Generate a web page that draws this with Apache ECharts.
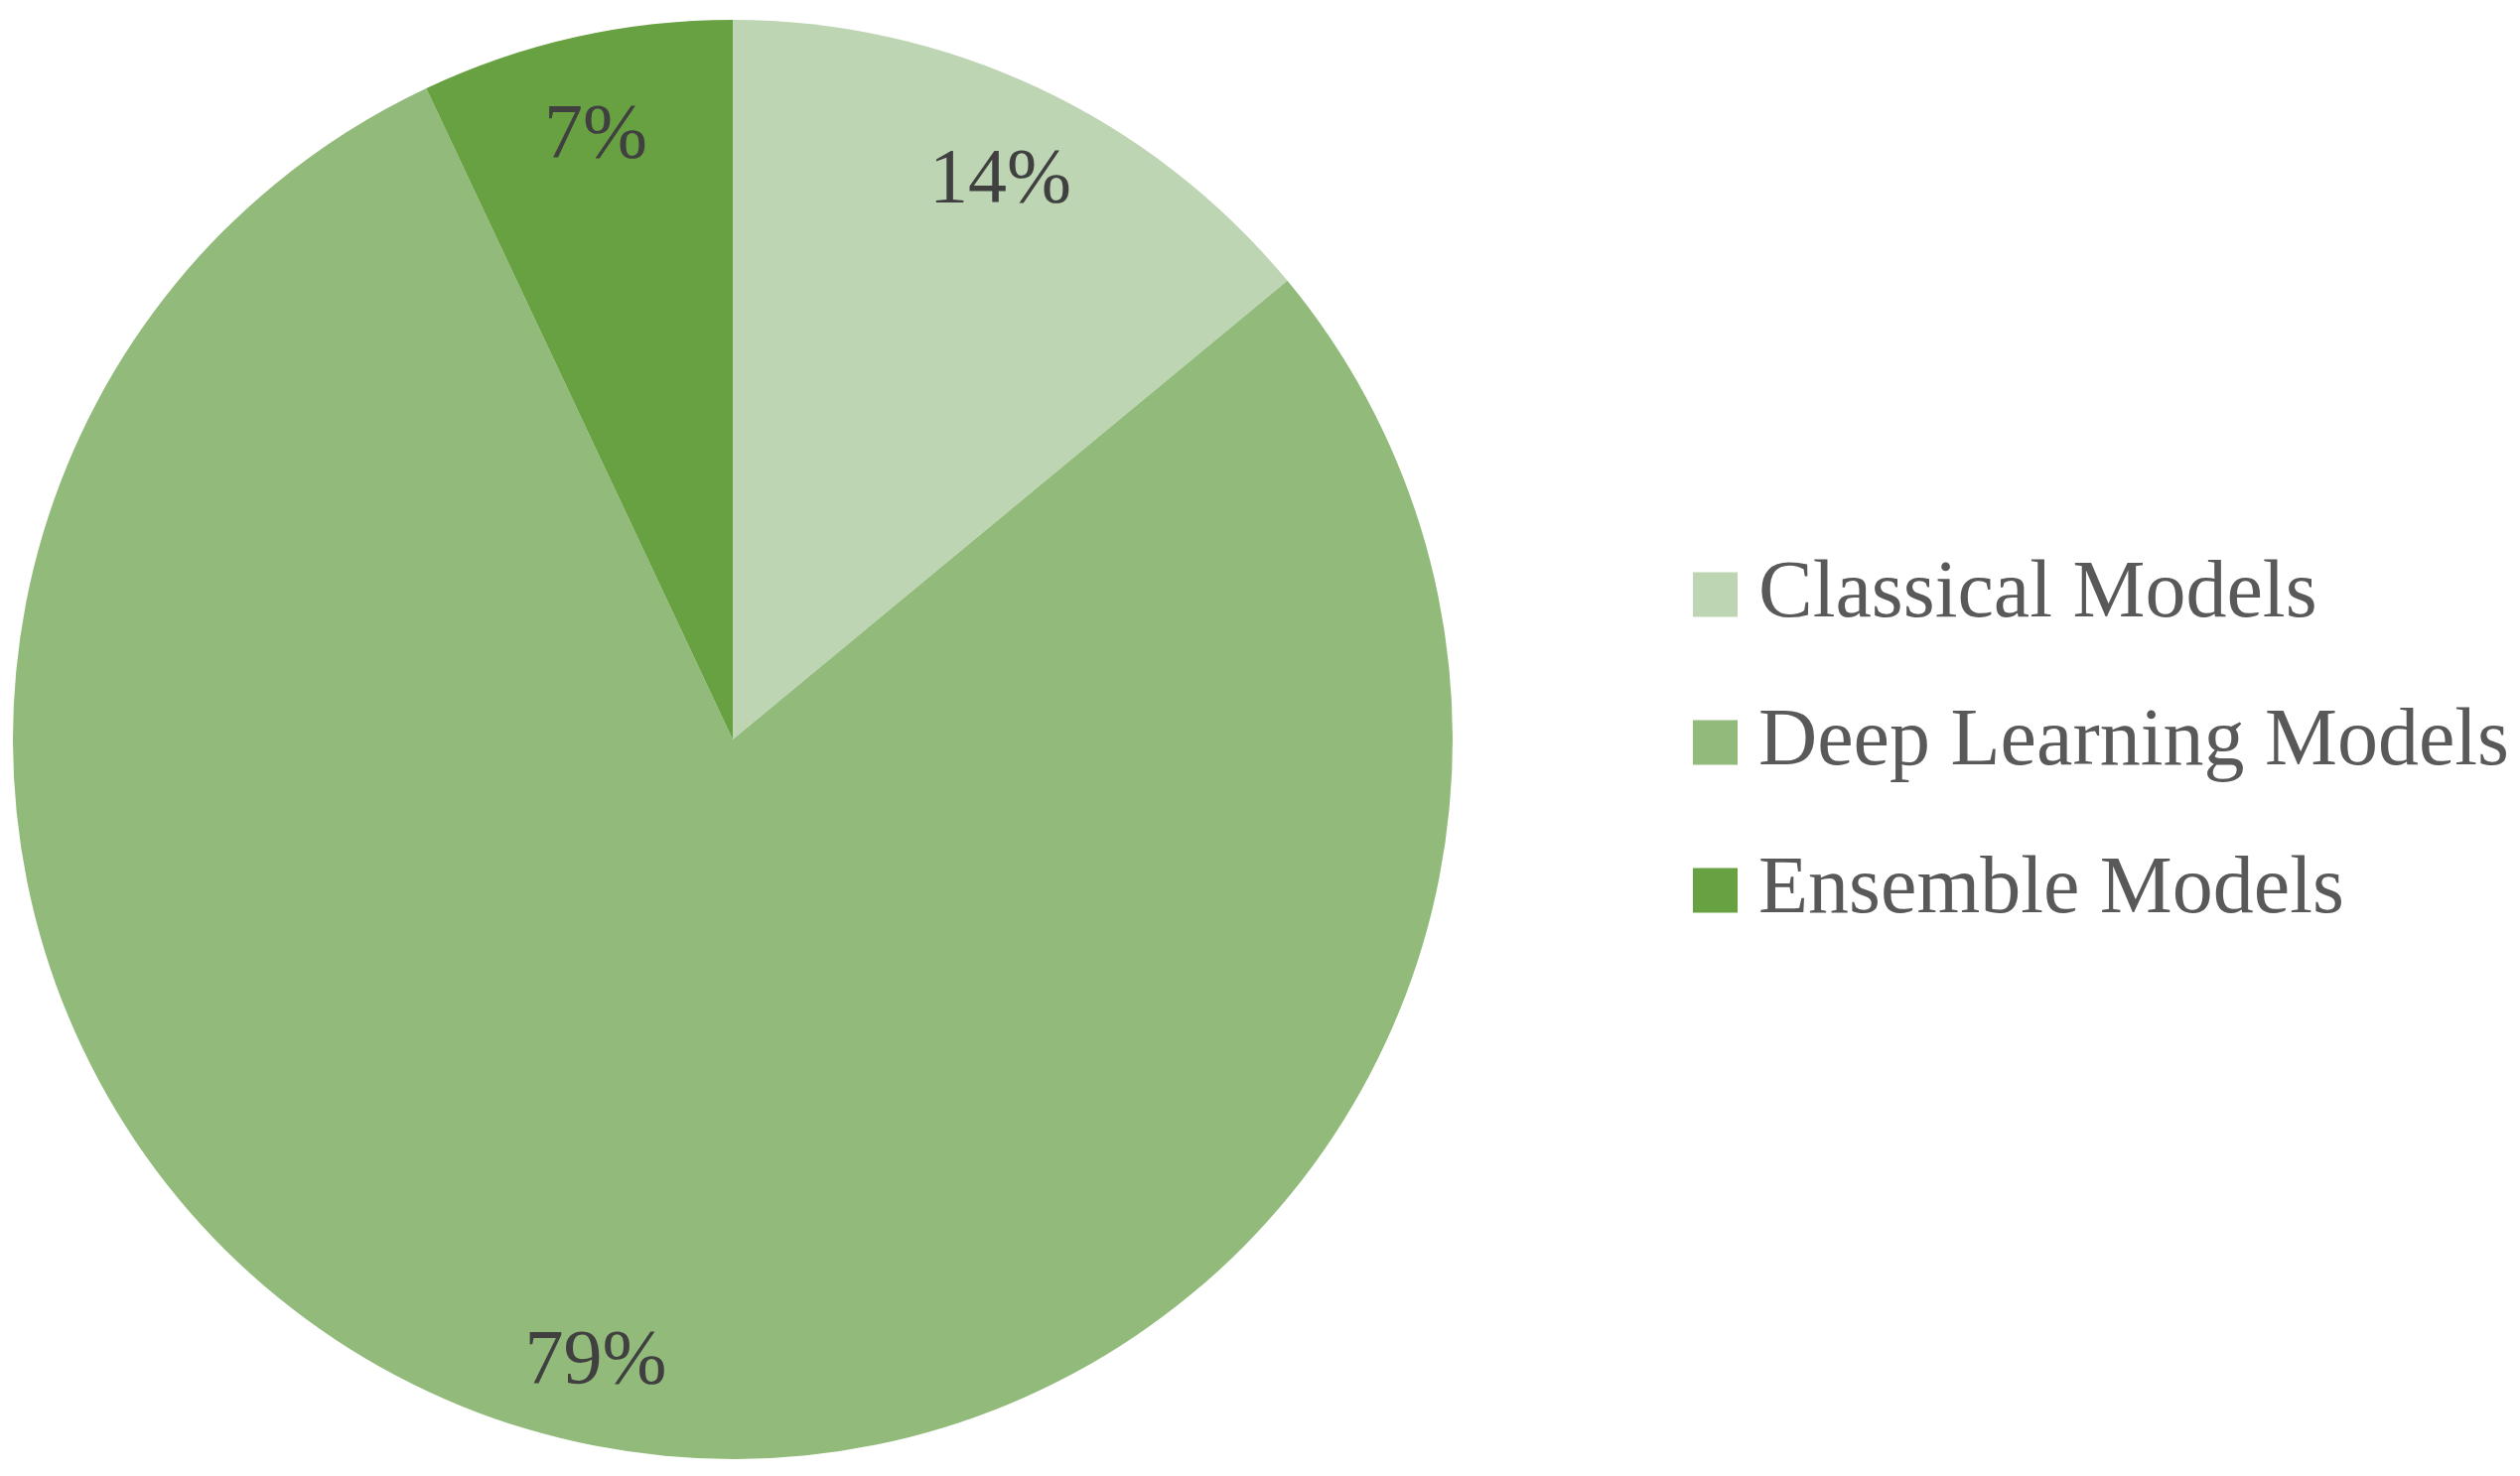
<!DOCTYPE html>
<html>
<head>
<meta charset="utf-8">
<script src="https://cdn.jsdelivr.net/npm/echarts@6/dist/echarts.min.js"></script>
<style>
  html, body { margin: 0; padding: 0; background: #fff; }
  #chart { width: 2538px; height: 1487px; }
</style>
</head>
<body>
<div id="chart"></div>
<script>
var categories = ['Classical Models', 'Deep Learning Models', 'Ensemble Models'];
var shares = [14, 79, 7];
var colors = ['#bdd5b3', '#92bb7b', '#68a142'];

var chart = echarts.init(document.getElementById('chart'));

var pieData = categories.map(function (name, i) {
  return { name: name, value: shares[i], itemStyle: { color: colors[i] } };
});

var option = {
  backgroundColor: '#fff',
  animation: false,
  legend: {
    orient: 'vertical',
    left: 1700,
    top: 549,
    icon: 'rect',
    itemWidth: 45,
    itemHeight: 45,
    itemGap: 59,
    data: categories,
    textStyle: {
      fontFamily: 'Liberation Serif',
      fontSize: 82,
      lineHeight: 90,
      color: '#595959',
      padding: [0, 0, 0, 16]
    }
  },
  series: [
    {
      name: 'share',
      type: 'pie',
      center: [738, 745],
      radius: [0, 725],
      startAngle: 90,
      clockwise: true,
      label: { show: false },
      labelLine: { show: false },
      emphasis: { disabled: true },
      data: pieData
    },
    {
      // overlay ring only used to place the percent labels near the rim
      name: 'labels',
      type: 'pie',
      silent: true,
      center: [738, 745],
      radius: [535, 725],
      startAngle: 90,
      clockwise: true,
      itemStyle: { color: 'rgba(0,0,0,0)' },
      label: {
        show: true,
        position: 'inside',
        formatter: '{d}%',
        fontFamily: 'Liberation Serif',
        fontSize: 78,
        color: '#404040',
        offset: [0, 10]
      },
      labelLine: { show: false },
      emphasis: { disabled: true },
      data: categories.map(function (name, i) {
        return { name: name, value: shares[i] };
      })
    }
  ]
};

chart.setOption(option);
</script>
</body>
</html>
